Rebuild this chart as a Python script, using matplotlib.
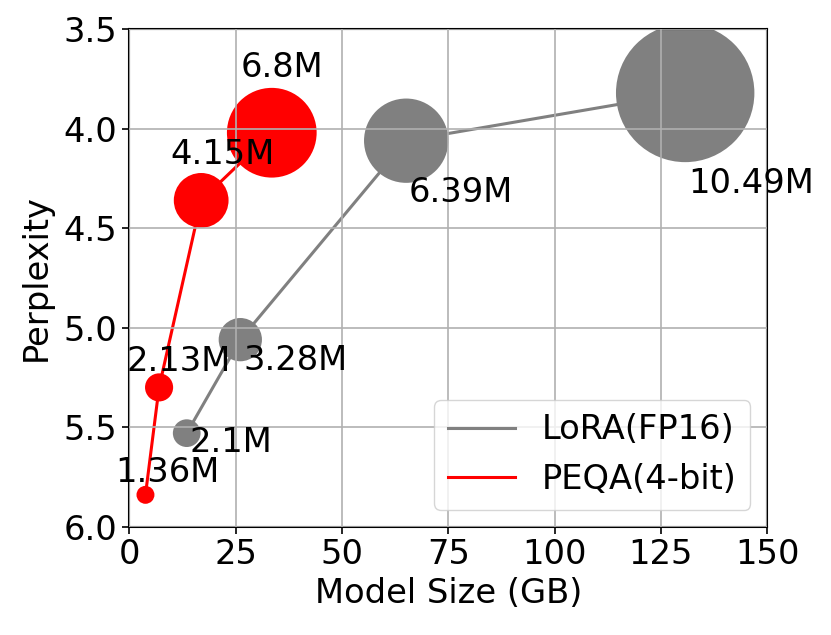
import matplotlib
matplotlib.use('Agg')
import matplotlib.pyplot as plt
import numpy as np

# LoRA (FP16)
lora_size = [13.5, 26.1, 65.1, 130.7]
lora_ppl = [5.53, 5.06, 4.06, 3.82]
lora_params = [2.1, 3.28, 6.39, 10.49]
lora_labels = ['2.1M', '3.28M', '6.39M', '10.49M']

# PEQA (4-bit)
peqa_size = [3.8, 7.0, 16.9, 33.5]
peqa_ppl = [5.84, 5.30, 4.36, 4.02]
peqa_params = [1.36, 2.13, 4.15, 6.8]
peqa_labels = ['1.36M', '2.13M', '4.15M', '6.8M']

# label offsets in points (dx, dy)
lora_offsets = [(2, -7), (2, -15), (2, -37), (2, -65)]
peqa_offsets = [(16, 16), (14, 19), (15, 33), (7, 47)]

fs = 24.3
scale = 9.5  # marker diameter (pt) per M params

fig = plt.figure(figsize=(8.31, 6.35), dpi=100)
ax = fig.add_axes([0.1556, 0.1706, 0.7677, 0.7833])

ax.plot(lora_size, lora_ppl, color='gray', lw=2.2, label='LoRA(FP16)', zorder=2)
ax.plot(peqa_size, peqa_ppl, color='red', lw=2.2, label='PEQA(4-bit)', zorder=2)
ax.scatter(lora_size, lora_ppl, s=(scale * np.array(lora_params)) ** 2,
           color='gray', linewidths=0, zorder=2.2)
ax.scatter(peqa_size, peqa_ppl, s=(scale * np.array(peqa_params)) ** 2,
           color='red', linewidths=0, zorder=2.2)

for x, y, t, (dx, dy) in zip(lora_size, lora_ppl, lora_labels, lora_offsets):
    ax.annotate(t, (x, y), xytext=(dx, dy), textcoords='offset points',
                ha='left', va='center', fontsize=fs, zorder=5)
for x, y, t, (dx, dy) in zip(peqa_size, peqa_ppl, peqa_labels, peqa_offsets):
    ax.annotate(t, (x, y), xytext=(dx, dy), textcoords='offset points',
                ha='center', va='center', fontsize=fs, zorder=5)

ax.set_xlim(0, 150)
ax.set_ylim(6.0, 3.5)
ax.set_xticks(np.arange(0, 151, 25))
ax.set_yticks(np.arange(3.5, 6.01, 0.5))
ax.set_axisbelow(False)
ax.grid(color='#b0b0b0', lw=1.2)
ax.tick_params(labelsize=fs, length=5, width=1.2)
for sp in ax.spines.values():
    sp.set_linewidth(1.5)
ax.set_xlabel('Model Size (GB)', fontsize=fs)
ax.set_ylabel('Perplexity', fontsize=fs, labelpad=8)
ax.legend(loc='lower right', fontsize=fs)

fig.savefig('out.png', dpi=100)
